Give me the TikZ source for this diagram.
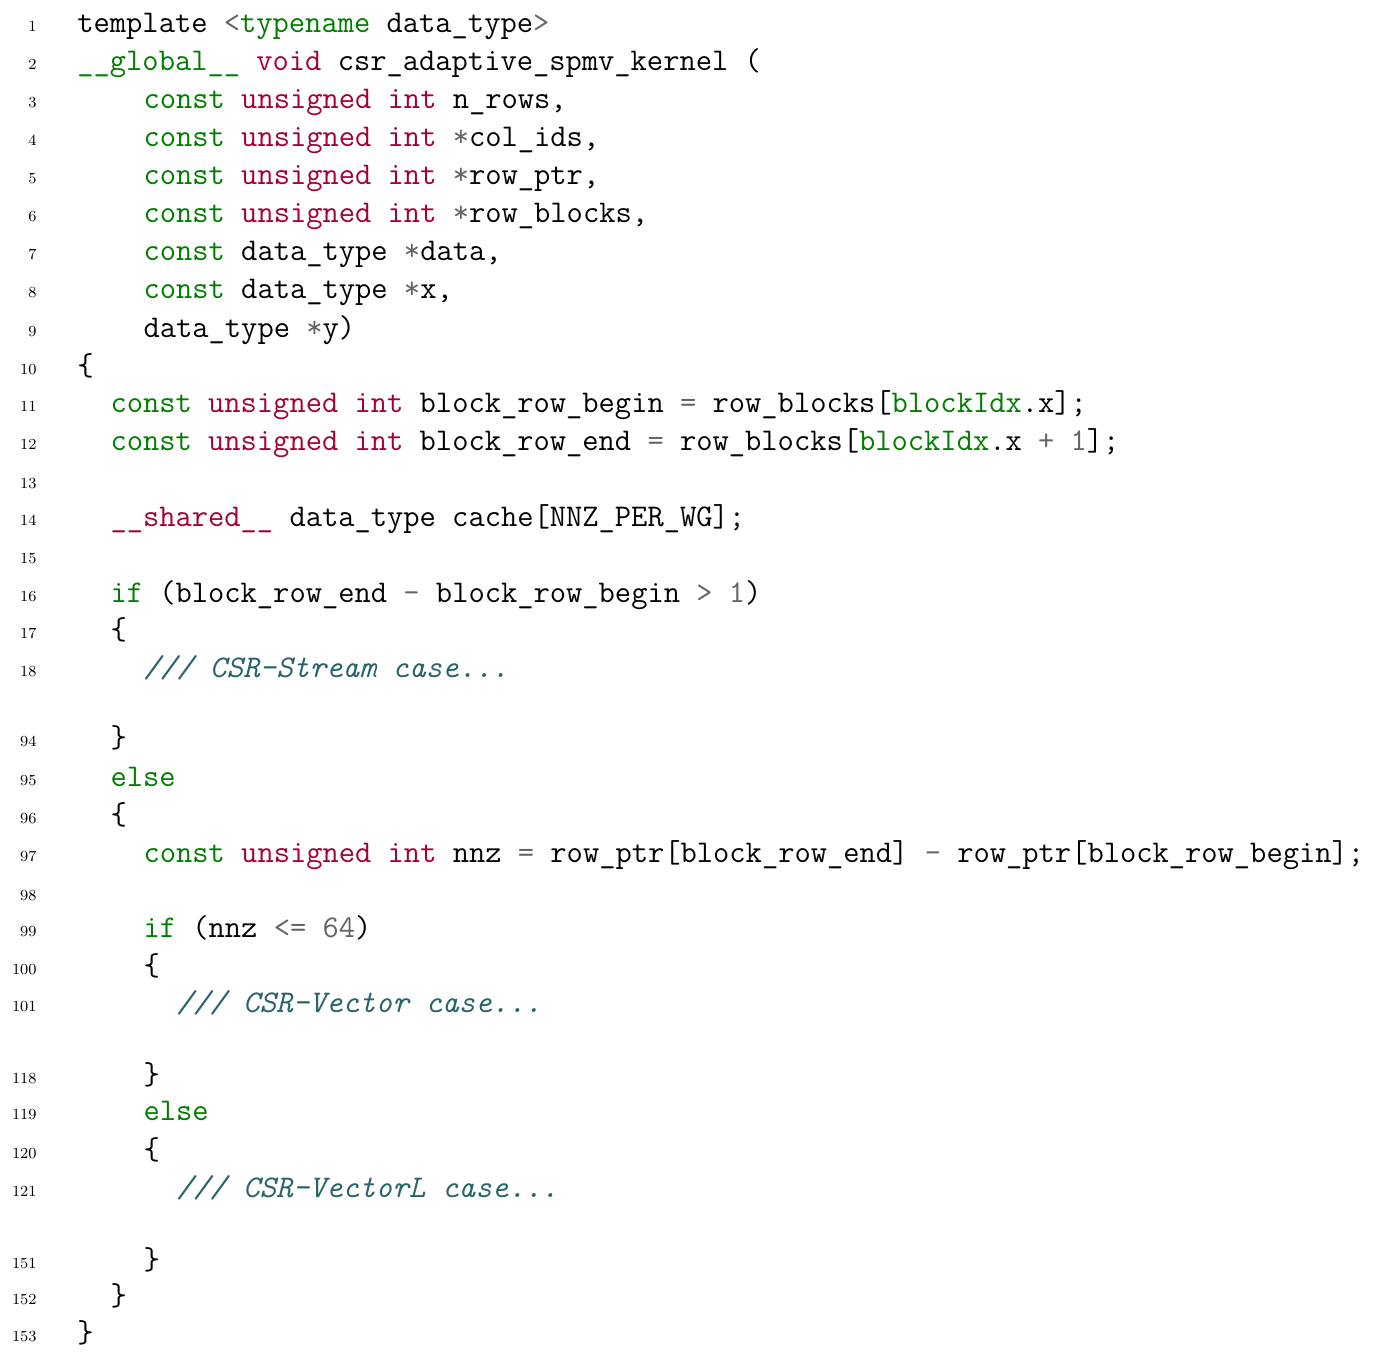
\documentclass[tikz,border=0pt]{standalone}
\definecolor{kwgreen}{RGB}{0,125,0}
\definecolor{tycrim}{RGB}{165,0,50}
\definecolor{opgray}{RGB}{100,100,100}
\definecolor{cmteal}{RGB}{40,100,105}
\newcommand\kw[1]{\textcolor{kwgreen}{#1}}
\newcommand\ty[1]{\textcolor{tycrim}{#1}}
\newcommand\op[1]{\textcolor{opgray}{#1}}
\newcommand\cmt[1]{\textcolor{cmteal}{\itshape #1}}
\tikzset{numtxt/.style={anchor=base east,inner sep=0pt,font=\fontsize{7.7}{9}\selectfont},
codetxt/.style={anchor=base west,inner sep=0pt,font=\fontsize{15.8}{18}\ttfamily}}
\newcommand\codeline[5]{%
 \node[numtxt] (n#1) at (37,#2+8) {#1};
 \node[codetxt] (c#1) at (77+#3*16.55,#2+9) {#5};}
\begin{document}
\begin{tikzpicture}[x=0.5pt,y=-0.5pt]
\useasboundingbox (0,0) rectangle (1400,1369);
\codeline{1}{24}{0}{}{template \op{<}\kw{typename} data\_type\op{>}}
\codeline{2}{62}{0}{}{\kw{\_\_global\_\_} \ty{void} csr\_adaptive\_spmv\_kernel (}
\codeline{3}{100}{4}{}{\kw{const} \ty{unsigned} \ty{int} n\_rows,}
\codeline{4}{138}{4}{}{\kw{const} \ty{unsigned} \ty{int} \op{*}col\_ids,}
\codeline{5}{176}{4}{}{\kw{const} \ty{unsigned} \ty{int} \op{*}row\_ptr,}
\codeline{6}{214}{4}{}{\kw{const} \ty{unsigned} \ty{int} \op{*}row\_blocks,}
\codeline{7}{252}{4}{}{\kw{const} data\_type \op{*}data,}
\codeline{8}{290}{4}{}{\kw{const} data\_type \op{*}x,}
\codeline{9}{328}{4}{}{data\_type \op{*}y)}
\codeline{10}{366}{0}{}{\{}
\codeline{11}{403}{2}{}{\kw{const} \ty{unsigned} \ty{int} block\_row\_begin \op{=} row\_blocks[\kw{blockIdx}.x];}
\codeline{12}{441}{2}{}{\kw{const} \ty{unsigned} \ty{int} block\_row\_end \op{=} row\_blocks[\kw{blockIdx}.x \op{+} \op{1}];}
\codeline{13}{480}{0}{}{}
\codeline{14}{517}{2}{}{\ty{\_\_shared\_\_} data\_type cache[NNZ\_PER\_WG];}
\codeline{15}{555}{0}{}{}
\codeline{16}{593}{2}{}{\kw{if} (block\_row\_end \op{-} block\_row\_begin \op{>} \op{1})}
\codeline{17}{630}{2}{}{\{}
\codeline{18}{668}{4}{}{\cmt{/// CSR-Stream case...}}
\codeline{94}{738}{2}{}{\}}
\codeline{95}{777}{2}{}{\kw{else}}
\codeline{96}{815}{2}{}{\{}
\codeline{97}{853}{4}{}{\kw{const} \ty{unsigned} \ty{int} nnz \op{=} row\_ptr[block\_row\_end] \op{-} row\_ptr[block\_row\_begin];}
\codeline{98}{892}{0}{}{}
\codeline{99}{928}{4}{}{\kw{if} (nnz \op{<=} \op{64})}
\codeline{100}{966}{4}{}{\{}
\codeline{101}{1003}{6}{}{\cmt{/// CSR-Vector case...}}
\codeline{118}{1075}{4}{}{\}}
\codeline{119}{1111}{4}{}{\kw{else}}
\codeline{120}{1150}{4}{}{\{}
\codeline{121}{1188}{6}{}{\cmt{/// CSR-VectorL case...}}
\codeline{151}{1260}{4}{}{\}}
\codeline{152}{1296}{2}{}{\}}
\codeline{153}{1333}{0}{}{\}}
\end{tikzpicture}
\end{document}
